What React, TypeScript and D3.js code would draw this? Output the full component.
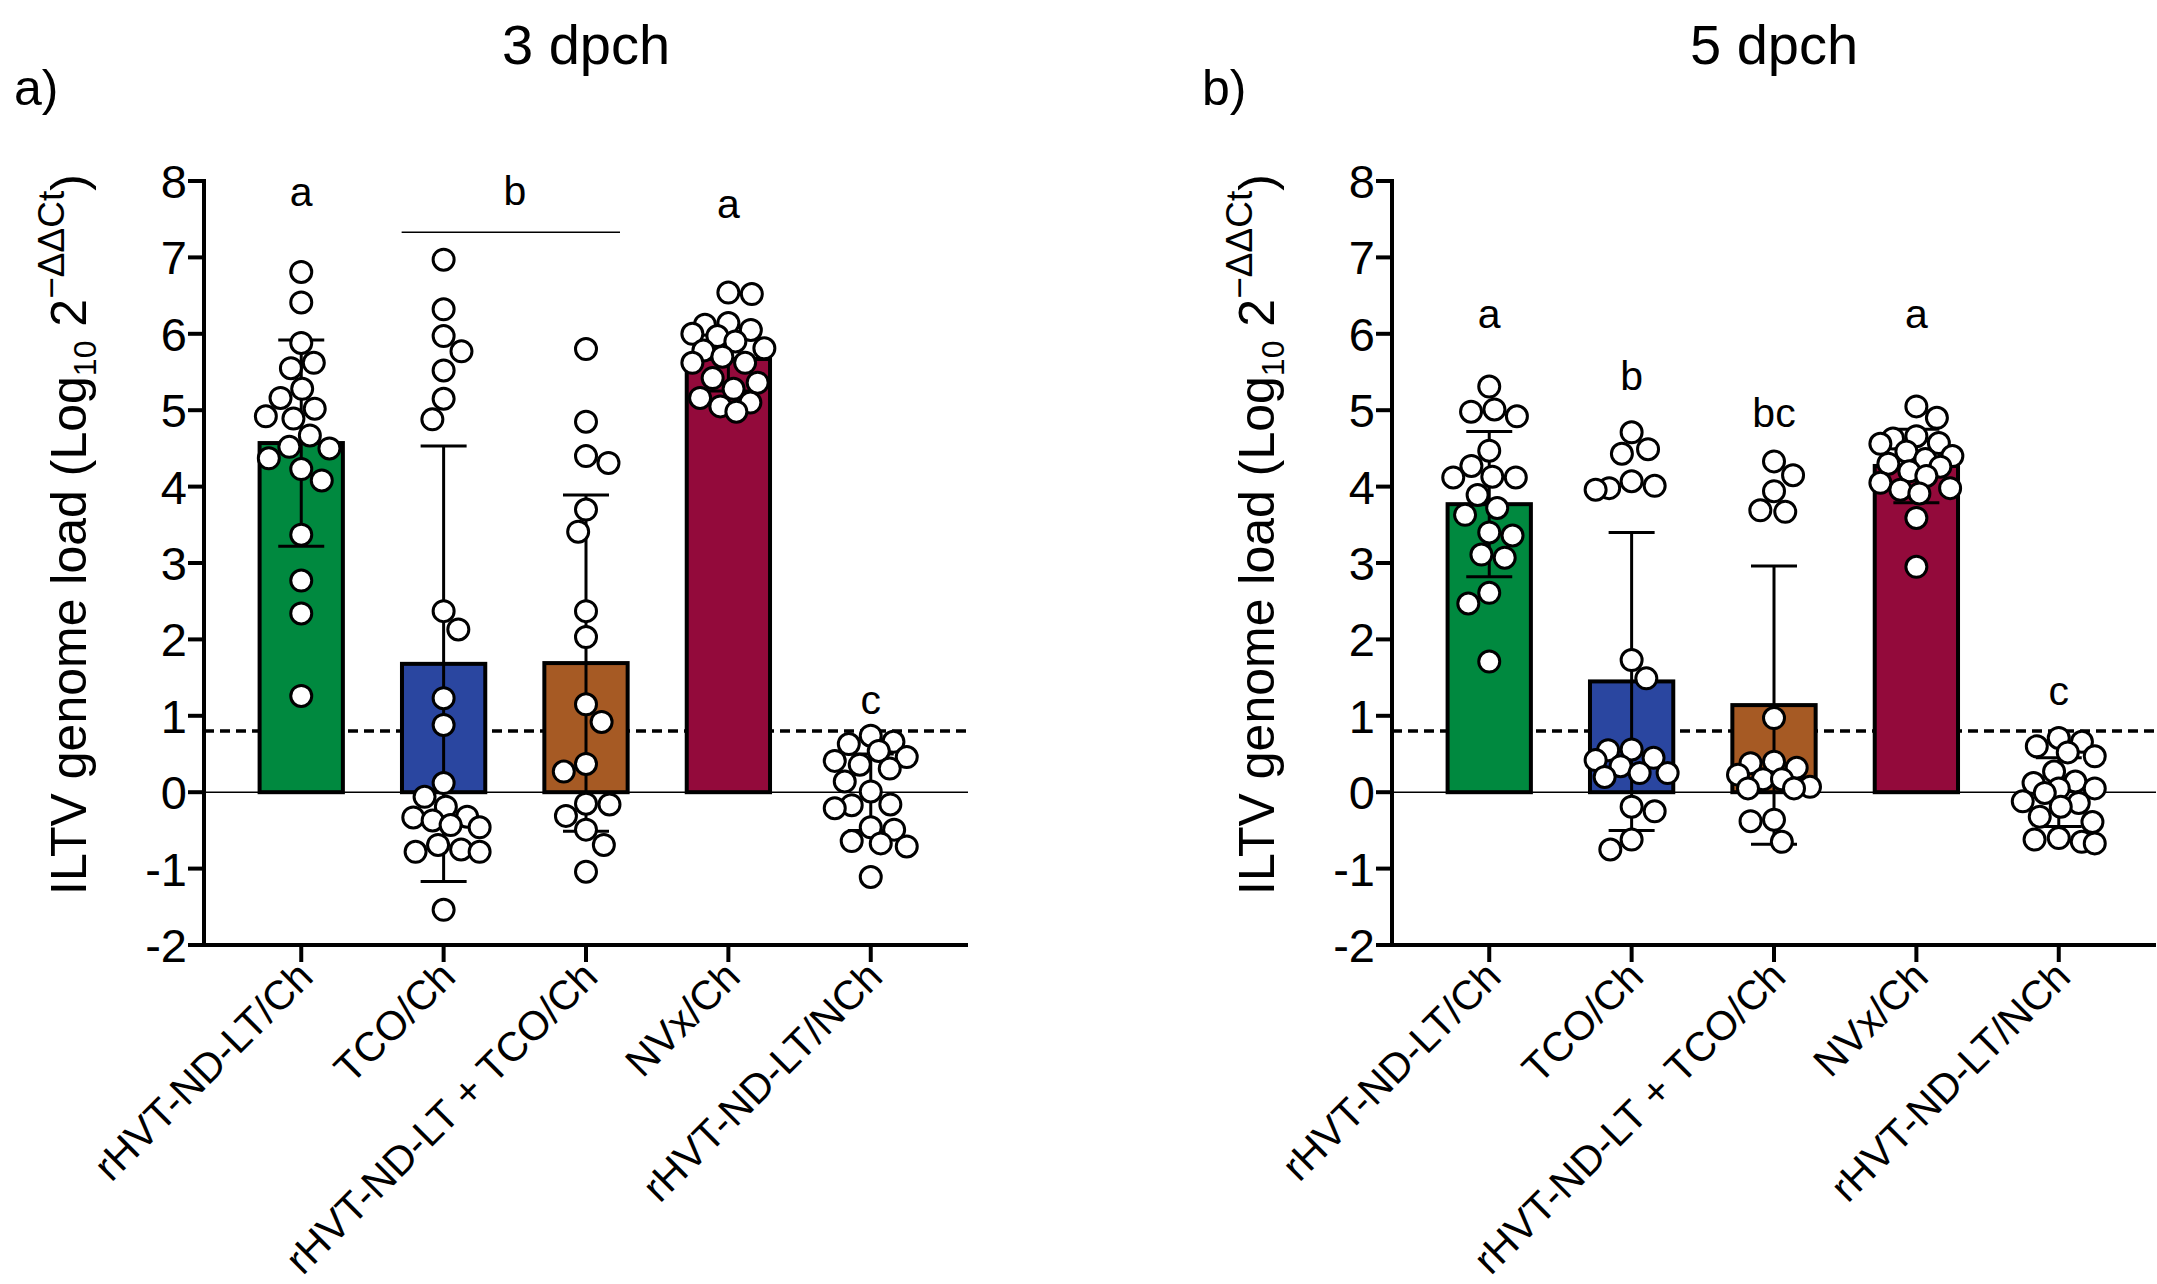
import React from 'react';
import * as d3 from 'd3';

// Treatment groups, shared by both time points
const groups = ['rHVT-ND-LT/Ch', 'TCO/Ch', 'rHVT-ND-LT + TCO/Ch', 'NVx/Ch', 'rHVT-ND-LT/NCh'];
const barColors = ['#00893F', '#2A46A0', '#A65A24', '#930A3B', '#FFFFFF'];
const yTicks = [-2, -1, 0, 1, 2, 3, 4, 5, 6, 7, 8];
const detectionLimit = 0.8;

// 3 days post challenge: group means and SD
const means3 = [4.57, 1.68, 1.69, 5.67, 0];
const sd3 = [1.35, 2.85, 2.2, 0.42, 0.5];
// individual birds, log10 2^-ddCt
const green3 = [6.81, 6.41, 5.88, 5.62, 5.55, 5.28, 5.16, 5.02, 4.92, 4.89, 4.67, 4.52, 4.5, 4.37, 4.23, 4.08, 3.37, 2.77, 2.34, 1.26];
const blue3 = [6.97, 6.32, 5.97, 5.77, 5.52, 5.15, 4.88, 2.37, 2.13, 1.23, 0.88, 0.12, -0.06, -0.19, -0.32, -0.33, -0.37, -0.43, -0.46, -0.69, -0.75, -0.78, -0.78, -1.54];
const brown3 = [5.8, 4.85, 4.4, 4.31, 3.7, 3.41, 2.37, 2.03, 1.15, 0.92, 0.37, 0.27, -0.15, -0.16, -0.31, -0.49, -0.69, -1.04];
const maroon3 = [6.54, 6.52, 6.14, 6.12, 6.05, 6.0, 5.97, 5.9, 5.81, 5.78, 5.7, 5.62, 5.62, 5.42, 5.36, 5.28, 5.16, 5.1, 5.05, 4.98];
const nch3 = [0.74, 0.66, 0.63, 0.54, 0.46, 0.41, 0.36, 0.31, 0.14, 0.01, -0.16, -0.17, -0.21, -0.46, -0.49, -0.64, -0.67, -0.71, -1.11];
// significance letters: text, first and last group, height; optional bracket height
const letters3 = [
  { text: 'a', from: 0, to: 0, y: 7.67 },
  { text: 'b', from: 1, to: 2, y: 7.68, line: 7.33 },
  { text: 'a', from: 3, to: 3, y: 7.52 },
  { text: 'c', from: 4, to: 4, y: 1.03 },
];

// 5 days post challenge
const means5 = [3.77, 1.45, 1.14, 4.27, 0];
const sd5 = [0.95, 1.95, 1.82, 0.48, 0.45];
const green5 = [5.31, 5.01, 4.98, 4.92, 4.47, 4.27, 4.13, 4.12, 4.12, 3.89, 3.72, 3.63, 3.4, 3.36, 3.11, 3.07, 2.61, 2.47, 1.71];
const blue5 = [4.71, 4.49, 4.43, 4.07, 4.01, 3.98, 3.96, 1.73, 1.49, 0.56, 0.55, 0.45, 0.42, 0.34, 0.25, 0.25, 0.2, -0.19, -0.25, -0.62, -0.75];
const brown5 = [4.33, 4.15, 3.94, 3.69, 3.67, 0.97, 0.4, 0.38, 0.32, 0.23, 0.17, 0.17, 0.07, 0.05, 0.05, -0.36, -0.38, -0.65];
const maroon5 = [5.05, 4.9, 4.66, 4.63, 4.57, 4.56, 4.46, 4.4, 4.36, 4.3, 4.26, 4.2, 4.14, 4.05, 3.98, 3.96, 3.91, 3.59, 2.95];
const nch5 = [0.71, 0.66, 0.6, 0.52, 0.47, 0.27, 0.14, 0.12, 0.05, 0.05, -0.01, -0.12, -0.14, -0.19, -0.32, -0.39, -0.6, -0.62, -0.65, -0.67];
const letters5 = [
  { text: 'a', from: 0, to: 0, y: 6.08 },
  { text: 'b', from: 1, to: 1, y: 5.27 },
  { text: 'bc', from: 2, to: 2, y: 4.78 },
  { text: 'a', from: 3, to: 3, y: 6.08 },
  { text: 'c', from: 4, to: 4, y: 1.14 },
];

const FONT = "'Liberation Sans', Arial, Helvetica, sans-serif";
const DOT_R = 10.5;

// Greedy beeswarm: highest values first, each dot goes to the free slot nearest the centre line.
function swarm(values: number[], y: (v: number) => number, d: number, maxSpread: number): number[] {
  const order = values.map((_, i) => i).sort((a, b) => values[b] - values[a]);
  const placed: { x: number; y: number }[] = [];
  const xs = new Array(values.length).fill(0);
  let side = 1;
  for (const i of order) {
    const yi = y(values[i]);
    const near = placed.filter((p) => Math.abs(p.y - yi) < d);
    const cands = [0];
    near.forEach((p) => {
      const dx = Math.sqrt(d * d - (p.y - yi) ** 2);
      cands.push(p.x - dx, p.x + dx);
    });
    const free = (x: number) => near.every((p) => (p.x - x) ** 2 + (p.y - yi) ** 2 >= d * d - 0.5);
    let best: number | null = null;
    cands
      .filter((x) => Math.abs(x) <= maxSpread + 1e-6 && free(x))
      .forEach((x) => {
        if (best === null) best = x;
        else if (Math.abs(x) < Math.abs(best) - 0.5) best = x;
        else if (Math.abs(Math.abs(x) - Math.abs(best)) <= 0.5 && Math.sign(x) === side) best = x;
      });
    if (best === null) {
      let score = -Infinity;
      for (let x = -maxSpread; x <= maxSpread; x += 1) {
        const m = d3.min(near, (p) => Math.hypot(p.x - x, p.y - yi)) ?? Infinity;
        if (m > score + 1e-6) {
          score = m;
          best = x;
        }
      }
    }
    const bx = best as number;
    if (bx !== 0) side = -Math.sign(bx);
    xs[i] = bx;
    placed.push({ x: bx, y: yi });
  }
  return xs;
}

type Letter = { text: string; from: number; to: number; y: number; line?: number };

function Panel(props: {
  offsetX: number;
  title: string;
  tag: string;
  means: number[];
  sds: number[];
  points: number[][];
  letters: Letter[];
}) {
  const { offsetX, title, tag, means, sds, points, letters } = props;
  const x0 = 204 + offsetX;
  const x1 = 968 + offsetX;
  const y = d3.scaleLinear().domain([-2, 8]).range([945, 181]);
  const x = d3.scalePoint<string>().domain(groups).range([x0, x1]).padding(0.683);
  const step = x.step();
  const barW = step * 0.585;
  const capW = 46;
  const swarms = points.map((vals) => swarm(vals, y, 2 * DOT_R + 2.5, 36));

  return (
    <g>
      <text x={14 + offsetX} y={105} fontSize={50} fontFamily={FONT}>{tag}</text>
      <text x={x(groups[2])} y={64} fontSize={56} textAnchor="middle" fontFamily={FONT}>{title}</text>

      {/* baseline and limit of detection */}
      <line x1={x0} x2={x1} y1={y(0)} y2={y(0)} stroke="#000" strokeWidth={1.5} />
      <line x1={x0} x2={x1} y1={y(detectionLimit)} y2={y(detectionLimit)} stroke="#000" strokeWidth={3.5} strokeDasharray="10 6" />

      {/* mean bars */}
      {groups.map((g, i) => {
        const top = Math.min(y(means[i]), y(0));
        const h = Math.abs(y(means[i]) - y(0));
        return (
          <rect key={g} x={(x(g) as number) - barW / 2} y={top} width={barW} height={h}
            fill={barColors[i]} stroke="#000" strokeWidth={4} />
        );
      })}

      {/* SD whiskers */}
      {groups.map((g, i) => {
        const cx = x(g) as number;
        const hi = y(means[i] + sds[i]);
        const lo = y(means[i] - sds[i]);
        return (
          <g key={g} stroke="#000" strokeWidth={3}>
            <line x1={cx} x2={cx} y1={hi} y2={lo} />
            <line x1={cx - capW / 2} x2={cx + capW / 2} y1={hi} y2={hi} />
            <line x1={cx - capW / 2} x2={cx + capW / 2} y1={lo} y2={lo} />
          </g>
        );
      })}

      {/* individual values */}
      {points.map((vals, gi) => (
        <g key={gi}>
          {vals.map((v, k) => (
            <circle key={k} cx={(x(groups[gi]) as number) + swarms[gi][k]} cy={y(v)} r={DOT_R}
              fill="#fff" stroke="#000" strokeWidth={3} />
          ))}
        </g>
      ))}

      {/* group letters */}
      {letters.map((l, i) => {
        const a = x(groups[l.from]) as number;
        const b = x(groups[l.to]) as number;
        return (
          <g key={i}>
            <text x={(a + b) / 2} y={y(l.y)} fontSize={41} textAnchor="middle" fontFamily={FONT}>{l.text}</text>
            {l.line !== undefined && (
              <line x1={a - 42} x2={b + 34} y1={y(l.line)} y2={y(l.line)} stroke="#000" strokeWidth={1.5} />
            )}
          </g>
        );
      })}

      {/* y axis */}
      <line x1={x0} x2={x0} y1={y(-2) + 2} y2={y(8) - 2} stroke="#000" strokeWidth={4} />
      {yTicks.map((t) => (
        <g key={t}>
          <line x1={x0 - 16} x2={x0} y1={y(t)} y2={y(t)} stroke="#000" strokeWidth={4} />
          <text x={x0 - 17} y={y(t)} dy="0.36em" fontSize={47} textAnchor="end" fontFamily={FONT}>{t}</text>
        </g>
      ))}

      {/* x axis */}
      <line x1={x0 - 2} x2={x1} y1={y(-2)} y2={y(-2)} stroke="#000" strokeWidth={4} />
      {groups.map((g) => {
        const cx = x(g) as number;
        return (
          <g key={g}>
            <line x1={cx} x2={cx} y1={y(-2)} y2={y(-2) + 17} stroke="#000" strokeWidth={4} />
            <text transform={`translate(${cx + 14},${y(-2) + 34}) rotate(-45)`} fontSize={41}
              textAnchor="end" fontFamily={FONT}>{g}</text>
          </g>
        );
      })}

      {/* y axis title */}
      <text transform={`translate(${86 + offsetX},895) rotate(-90)`} fontSize={50} textAnchor="start" fontFamily={FONT}>
        ILTV genome load (Log<tspan fontSize={32} dy={10}>10</tspan>
        <tspan dy={-10}> 2</tspan>
        <tspan fontSize={37} dy={-22}>−ΔΔCt</tspan>
        <tspan dy={22}>)</tspan>
      </text>
    </g>
  );
}

export default function App() {
  return (
    <svg width={2157} height={1284} style={{ position: 'absolute', left: 0, top: 0 }}>
      <rect width={2157} height={1284} fill="#fff" />
      <Panel offsetX={0} title="3 dpch" tag="a)" means={means3} sds={sd3}
        points={[green3, blue3, brown3, maroon3, nch3]} letters={letters3} />
      <Panel offsetX={1188} title="5 dpch" tag="b)" means={means5} sds={sd5}
        points={[green5, blue5, brown5, maroon5, nch5]} letters={letters5} />
    </svg>
  );
}
